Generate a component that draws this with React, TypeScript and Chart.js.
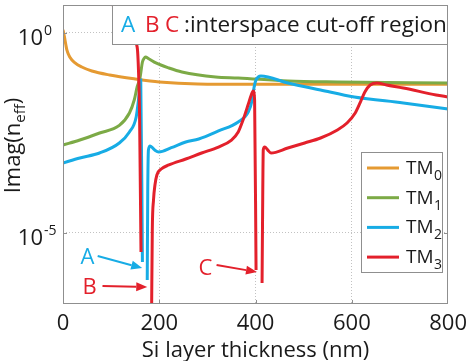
import React, { useEffect, useRef } from "react";
import { Chart, registerables } from "chart.js";

Chart.register(...registerables);

const FONT = "'Open Sans', 'Noto Sans', sans-serif";
const TEXT = "#1a1a1a";
const FRAME = "#8f8f8f";

// axis ticks
const xTicks = [0, 200, 400, 600, 800];
const yTicks = [1e-5, 1];
const yTickExponents = ["-5", "0"];

// series names / colours
const seriesBase = ["TM", "TM", "TM", "TM"];
const seriesSubs = ["0", "1", "2", "3"];
const seriesColors = ["#E59A32", "#7CAA46", "#17ACE5", "#E3202B"];

// TM0
const tm0X = [0, 3, 6, 8, 14, 25, 39, 60, 97, 150, 200, 280, 400, 550, 700, 800];
const tm0Y = [1.2, 0.8, 0.5, 0.376, 0.25, 0.178, 0.141, 0.112, 0.089, 0.0708, 0.0596, 0.0531, 0.0521, 0.052, 0.052, 0.052];

// TM1
const tm1X = [0, 35, 76, 117, 138, 148, 154, 160, 165, 169, 171, 179, 193, 220, 247, 317, 364, 467, 570, 800];
const tm1Y = [1.58e-3, 2.11e-3, 3.16e-3, 4.9e-3, 1.0e-2, 2.11e-2, 4.47e-2, 7.6e-2, 0.188, 0.237, 0.251, 0.224, 0.178, 0.133, 0.106, 0.0794, 0.075, 0.063, 0.0596, 0.0562];

// TM2 (null = not plottable on log axis)
const tm2X = [0, 35, 76, 117, 138, 152, 158, 161.5, 165, 170, 175, 176, 177.5, 181, 190, 199, 225, 255, 282, 323, 364, 385, 393, 397, 401, 411, 467, 535, 605, 707, 800];
const tm2Y = [5.62e-4, 7.5e-4, 1e-3, 1.78e-3, 3.35e-3, 7.94e-3, 2.82e-2, 6.68e-2, 1.88e-6, null, 6.68e-7, 1e-4, 1.2e-3, 1.5e-3, 1.2e-3, 1.06e-3, 1.36e-3, 1.88e-3, 2.24e-3, 3.55e-3, 5.96e-3, 1.06e-2, 2.11e-2, 4.47e-2, 6.68e-2, 8.41e-2, 5.62e-2, 3.76e-2, 2.51e-2, 1.78e-2, 1.26e-2];

// TM3
const tm3X = [95, 103, 154, 157, 159, 162, 170, 184, 185.5, 188, 191, 195, 204, 220, 255, 288, 323, 350, 364, 374, 385, 391, 395, 398, 401, 407, 413.5, 414.5, 416, 419, 425, 432, 467, 502, 535, 570, 590, 607, 617, 627, 638, 652, 672, 707, 775, 800];
const tm3Y = [8, 5, 0.45, 0.1, 0.01, 3.35e-6, null, 1e-7, 1.19e-5, 6.68e-5, 1.58e-4, 2.82e-4, 3.98e-4, 5.01e-4, 7.08e-4, 1e-3, 1.41e-3, 2.11e-3, 3.35e-3, 6.68e-3, 1.68e-2, 2.82e-2, 3.55e-2, 2.11e-2, 1.19e-6, null, 5.62e-7, 2.11e-5, 1.2e-3, 1.41e-3, 1.2e-3, 1.0e-3, 1.33e-3, 1.78e-3, 2.37e-3, 3.76e-3, 5.62e-3, 1.0e-2, 1.78e-2, 3.35e-2, 5.01e-2, 5.62e-2, 5.01e-2, 4.22e-2, 2.82e-2, 2.51e-2];

const seriesX = [tm0X, tm1X, tm2X, tm3X];
const seriesY = [tm0Y, tm1Y, tm2Y, tm3Y];

// annotation letters and arrows, in data coordinates (nm, Imag)
const noteLabels = ["A", "B", "C"];
const noteColors = [seriesColors[2], seriesColors[3], seriesColors[3]];
const noteTextX = [51, 55.5, 296];
const noteTextY = [2.7e-6, 4.73e-7, 1.41e-6];
const noteFromX = [72, 82, 319];
const noteFromY = [2.66e-6, 4.73e-7, 1.58e-6];
const noteToX = [164.5, 175, 403];
const noteToY = [1.33e-6, 4.47e-7, 1.06e-6];

function arrow(ctx: CanvasRenderingContext2D, x1: number, y1: number, x2: number, y2: number, color: string) {
  const ang = Math.atan2(y2 - y1, x2 - x1);
  const hl = 11, hw = 4.5;
  const c = Math.cos(ang), s = Math.sin(ang);
  ctx.strokeStyle = color;
  ctx.lineWidth = 2;
  ctx.beginPath();
  ctx.moveTo(x1, y1);
  ctx.lineTo(x2 - hl * c, y2 - hl * s);
  ctx.stroke();
  ctx.fillStyle = color;
  ctx.beginPath();
  ctx.moveTo(x2, y2);
  ctx.lineTo(x2 - hl * c + hw * s, y2 - hl * s - hw * c);
  ctx.lineTo(x2 - hl * c - hw * s, y2 - hl * s + hw * c);
  ctx.closePath();
  ctx.fill();
}

const decorations = {
  id: "decorations",
  afterDraw(chart: any) {
    const { ctx, chartArea: a, scales } = chart;
    const xs = scales.x, ys = scales.y;
    ctx.save();
    ctx.setLineDash([]);

    // frame
    ctx.strokeStyle = FRAME;
    ctx.lineWidth = 1;
    const L = Math.round(a.left), T = Math.round(a.top), R = Math.round(a.right), B = Math.round(a.bottom);
    ctx.strokeRect(L + 0.5, T + 0.5, R - L - 1, B - T - 1);

    // inward tick marks
    ctx.beginPath();
    for (const v of xTicks) {
      if (v === xTicks[0] || v === xTicks[xTicks.length - 1]) continue;
      const px = Math.round(xs.getPixelForValue(v)) + 0.5;
      ctx.moveTo(px, B); ctx.lineTo(px, B - 4);
      ctx.moveTo(px, T); ctx.lineTo(px, T + 4);
    }
    for (const v of yTicks) {
      const py = Math.round(ys.getPixelForValue(v)) + 0.5;
      ctx.moveTo(L, py); ctx.lineTo(L + 4, py);
      ctx.moveTo(R, py); ctx.lineTo(R - 4, py);
    }
    ctx.stroke();

    // y tick labels with superscript
    ctx.fillStyle = TEXT;
    ctx.textBaseline = "alphabetic";
    yTicks.forEach((v, i) => {
      const py = ys.getPixelForValue(v);
      ctx.font = `22px ${FONT}`;
      ctx.textAlign = "right";
      ctx.fillText("10", L - 20, py + 12);
      ctx.font = `14px ${FONT}`;
      ctx.textAlign = "left";
      ctx.fillText(yTickExponents[i], L - 19, py + 2);
    });

    // y axis title with subscript
    ctx.save();
    ctx.translate(20, (T + B) / 2 - 9);
    ctx.rotate(-Math.PI / 2);
    ctx.font = `22px ${FONT}`;
    const w1 = ctx.measureText("Imag(n").width;
    const w3 = ctx.measureText(")").width;
    ctx.font = `15px ${FONT}`;
    const w2 = ctx.measureText("eff").width;
    const x0 = -(w1 + w2 + w3) / 2;
    ctx.textAlign = "left";
    ctx.fillStyle = TEXT;
    ctx.font = `22px ${FONT}`;
    ctx.fillText("Imag(n", x0, 0);
    ctx.font = `15px ${FONT}`;
    ctx.fillText("eff", x0 + w1, 5);
    ctx.font = `22px ${FONT}`;
    ctx.fillText(")", x0 + w1 + w2, 0);
    ctx.restore();

    // title box
    const bx = L + 49, by = T, bw = R - bx, bh = 40;
    ctx.fillStyle = "#ffffff";
    ctx.fillRect(bx, by, bw, bh);
    ctx.strokeStyle = FRAME;
    ctx.strokeRect(bx + 0.5, by + 0.5, bw - 1, bh - 1);
    ctx.font = `22.5px ${FONT}`;
    ctx.textAlign = "left";
    const tb = by + 27;
    ctx.fillStyle = seriesColors[2]; ctx.fillText("A", bx + 9, tb);
    ctx.fillStyle = seriesColors[3]; ctx.fillText("B", bx + 33, tb);
    ctx.fillStyle = seriesColors[3]; ctx.fillText("C", bx + 53, tb);
    ctx.fillStyle = TEXT; ctx.fillText(":interspace cut-off region", bx + 72, tb);

    // legend
    const lx = R - 87, ly = T + 147, lw = 82, lh = 121;
    ctx.fillStyle = "#ffffff";
    ctx.fillRect(lx, ly, lw, lh);
    ctx.strokeStyle = FRAME;
    ctx.strokeRect(lx + 0.5, ly + 0.5, lw - 1, lh - 1);
    seriesBase.forEach((name, i) => {
      const yy = ly + 16 + i * 29.7;
      ctx.strokeStyle = seriesColors[i];
      ctx.lineWidth = 3;
      ctx.beginPath();
      ctx.moveTo(lx + 6, yy);
      ctx.lineTo(lx + 38, yy);
      ctx.stroke();
      ctx.fillStyle = TEXT;
      ctx.font = `19px ${FONT}`;
      ctx.fillText(name, lx + 45, yy + 6);
      const tw = ctx.measureText(name).width;
      ctx.font = `14px ${FONT}`;
      ctx.fillText(seriesSubs[i], lx + 45 + tw + 0.5, yy + 12);
    });

    // annotations
    noteLabels.forEach((lab, i) => {
      const fx = xs.getPixelForValue(noteFromX[i]), fy = ys.getPixelForValue(noteFromY[i]);
      const tx = xs.getPixelForValue(noteToX[i]), ty = ys.getPixelForValue(noteToY[i]);
      arrow(ctx, fx, fy, tx, ty, noteColors[i]);
      ctx.fillStyle = noteColors[i];
      ctx.font = `22px ${FONT}`;
      ctx.textAlign = "center";
      ctx.textBaseline = "alphabetic";
      ctx.fillText(lab, xs.getPixelForValue(noteTextX[i]), ys.getPixelForValue(noteTextY[i]) + 8);
    });

    ctx.restore();
  },
};

export default function App() {
  const ref = useRef<HTMLCanvasElement | null>(null);
  useEffect(() => {
    if (!ref.current) return;
    const order = [3, 2, 1, 0];
    const chart = new Chart(ref.current, {
      type: "line",
      data: {
        datasets: seriesX.map((xs, i) => ({
          label: seriesBase[i] + seriesSubs[i],
          data: xs.map((x, j) => ({ x, y: seriesY[i][j] })),
          borderColor: seriesColors[i],
          backgroundColor: seriesColors[i],
          borderWidth: 3,
          pointRadius: 0,
          fill: false,
          spanGaps: false,
          cubicInterpolationMode: "monotone",
          order: order[i],
        })) as any,
      },
      options: {
        animation: false,
        responsive: false,
        devicePixelRatio: 1,
        layout: { padding: { left: 0, right: 22, top: 5, bottom: 0 } },
        plugins: { legend: { display: false }, tooltip: { enabled: false } },
        scales: {
          x: {
            type: "linear",
            min: 0,
            max: 800,
            afterFit: (s: any) => { s.height = 57; },
            afterBuildTicks: (s: any) => { s.ticks = xTicks.map((v) => ({ value: v })); },
            ticks: { font: { family: FONT, size: 22 }, color: TEXT, padding: 7, maxRotation: 0, autoSkip: false },
            grid: {
              color: (c: any) => (c.tick && (c.tick.value === 0 || c.tick.value === 800) ? "rgba(0,0,0,0)" : "#c2c2c2"),
              drawTicks: false,
              lineWidth: 1,
            },
            border: { display: false, dash: [1, 2] },
            title: { display: true, text: "Si layer thickness (nm)", font: { family: FONT, size: 22 }, color: TEXT, padding: { top: 0, bottom: -3 } },
          },
          y: {
            type: "logarithmic",
            min: 1.68e-7,
            max: 5.0,
            afterFit: (s: any) => { s.width = 63; },
            afterBuildTicks: (s: any) => { s.ticks = yTicks.map((v) => ({ value: v })); },
            ticks: { display: false },
            grid: { color: "#c2c2c2", drawTicks: false, lineWidth: 1 },
            border: { display: false, dash: [1, 2] },
          },
        } as any,
      },
      plugins: [decorations],
    });
    return () => chart.destroy();
  }, []);
  return (
    <div style={{ position: "fixed", left: 0, top: 0, width: 474, height: 361, background: "#fff" }}>
      <canvas ref={ref} width={474} height={361} style={{ display: "block" }} />
    </div>
  );
}
